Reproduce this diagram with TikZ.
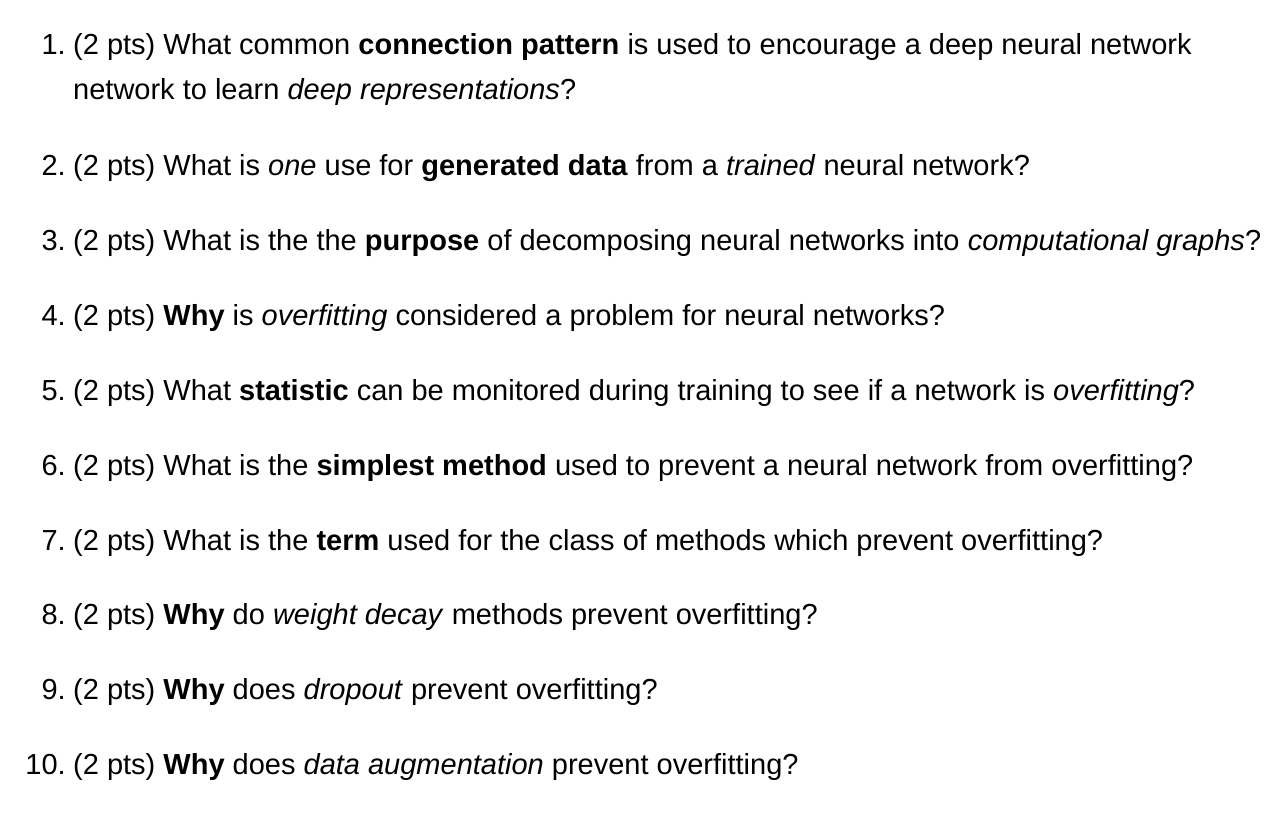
\documentclass[tikz,border=0pt]{standalone}
\usepackage{fontspec}
\setmainfont{Liberation Sans}
\begin{document}
\begin{tikzpicture}[x=1pt,y=-1pt,
  txt/.style={anchor=base west,inner sep=0pt,font=\fontsize{29}{34}\selectfont},
  num/.style={anchor=base east,inner sep=0pt,font=\fontsize{29}{34}\selectfont}]
\useasboundingbox (0,0) rectangle (1276,824);
\node[num] (n1) at (66,55) {1.};
\node[txt] (t1) at (73,55) {(2 pts) What common \textbf{connection pattern} is used to encourage a deep neural network};
\node[txt] (t1b) at (73,100) {network to learn \textit{deep representations}?};
\node[num] (n2) at (66,175) {2.};
\node[txt] (t2) at (73,175) {(2 pts) What is \textit{one} use for \textbf{generated data} from a \textit{trained} neural network?};
\node[num] (n3) at (66,250) {3.};
\node[txt] (t3) at (73,250) {(2 pts) What is the the \textbf{purpose} of decomposing neural networks into \textit{computational graphs}?};
\node[num] (n4) at (66,325) {4.};
\node[txt] (t4) at (73,325) {(2 pts) \textbf{Why} is \textit{overfitting} considered a problem for neural networks?};
\node[num] (n5) at (66,400) {5.};
\node[txt] (t5) at (73,400) {(2 pts) What \textbf{statistic} can be monitored during training to see if a network is \textit{overfitting}?};
\node[num] (n6) at (66,475) {6.};
\node[txt] (t6) at (73,475) {(2 pts) What is the \textbf{simplest method} used to prevent a neural network from overfitting?};
\node[num] (n7) at (66,550) {7.};
\node[txt] (t7) at (73,550) {(2 pts) What is the \textbf{term} used for the class of methods which prevent overfitting?};
\node[num] (n8) at (66,624) {8.};
\node[txt] (t8) at (73,624) {(2 pts) \textbf{Why} do \textit{weight decay} methods prevent overfitting?};
\node[num] (n9) at (66,699) {9.};
\node[txt] (t9) at (73,699) {(2 pts) \textbf{Why} does \textit{dropout} prevent overfitting?};
\node[num] (n10) at (66,774) {10.};
\node[txt] (t10) at (73,774) {(2 pts) \textbf{Why} does \textit{data augmentation} prevent overfitting?};
\end{tikzpicture}
\end{document}
